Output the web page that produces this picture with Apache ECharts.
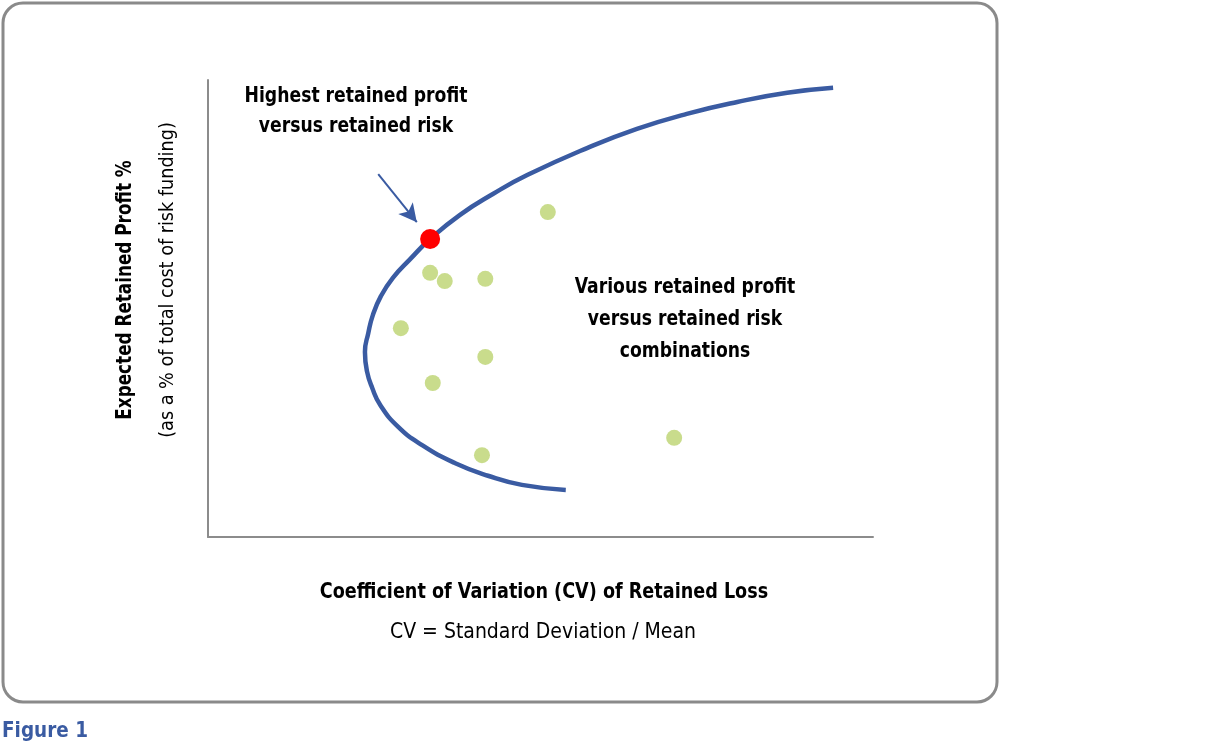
<!DOCTYPE html>
<html>
<head>
<meta charset="utf-8">
<script src="https://cdn.jsdelivr.net/npm/echarts@6/dist/echarts.min.js"></script>
<style>
html, body { margin: 0; padding: 0; background: #fff; }
#chart { width: 1228px; height: 751px; }
</style>
</head>
<body>
<div id="chart"></div>
<script>
// frontier curve (x = CV, y = profit), axis units 0..100
var curveX = [94.0, 87.1, 79.6, 72.0, 64.5, 57.0, 48.0, 42.9, 37.9, 33.4, 30.4, 27.8, 26.0, 24.8, 24.1, 23.6, 23.9, 24.7, 25.9, 28.6, 32.2, 37.1, 42.1, 47.2, 53.8];
var curveY = [98.3, 97.2, 95.2, 92.6, 89.3, 85.1, 79.2, 75.1, 70.5, 65.2, 60.8, 56.7, 52.7, 48.6, 44.6, 40.5, 36.3, 32.6, 28.9, 24.1, 20.1, 16.2, 13.4, 11.4, 10.3];
// various combinations
var dotsX = [51.1, 33.4, 35.6, 41.7, 29.0, 41.7, 33.8, 41.2, 70.1];
var dotsY = [71.1, 57.8, 56.0, 56.5, 45.7, 39.4, 33.7, 17.9, 21.7];
// best point
var bestPoint = [33.4, 65.2];
// arrow pointing at best point
var arrowFrom = [25.6, 79.4];
var arrowTo = [31.4, 68.9];

var cond = "'Liberation Sans Narrow', 'DejaVu Sans Condensed', 'Roboto', sans-serif";
var blue = '#3a5ba2';

var curve = [];
for (var i = 0; i < curveX.length; i++) curve.push([curveX[i], curveY[i]]);
var dots = [];
for (var j = 0; j < dotsX.length; j++) dots.push([dotsX[j], dotsY[j]]);

// text block; sx squeezes along the reading direction
function label(x, y, text, font, lh, sx, rot) {
	return {
		type: 'text', x: x, y: y, scaleX: sx,
		rotation: rot ? Math.PI / 2 : 0,
		style: { text: text, fill: '#000', font: font, align: 'center', verticalAlign: 'middle', lineHeight: lh }
	};
}

var myChart = echarts.init(document.getElementById('chart'));
var option = {
	animation: false,
	grid: { left: 208, top: 80, width: 665, height: 457 },
	xAxis: {
		type: 'value', min: 0, max: 100,
		axisLine: { onZero: false, lineStyle: { color: '#8c8c8c', width: 2 } },
		axisTick: { show: false },
		axisLabel: { show: false },
		splitLine: { show: false }
	},
	yAxis: {
		type: 'value', min: 0, max: 100,
		axisLine: { show: true, onZero: false, lineStyle: { color: '#8c8c8c', width: 2 } },
		axisTick: { show: false },
		axisLabel: { show: false },
		splitLine: { show: false }
	},
	graphic: [
		{ type: 'rect', shape: { x: 3, y: 3, width: 994, height: 699, r: 20 },
		  style: { fill: 'none', stroke: '#8a8a8a', lineWidth: 3 } },
		{ type: 'text', x: 2, y: 731, scaleX: 0.93,
		  style: { text: 'Figure 1', fill: blue, font: 'bold 22px ' + cond, verticalAlign: 'middle' } },
		label(356, 111, 'Highest retained profit\nversus retained risk', 'bold 22px ' + cond, 30, 0.87),
		label(685, 319, 'Various retained profit\nversus retained risk\ncombinations', 'bold 22px ' + cond, 32, 0.87),
		label(544, 592, 'Coefficient of Variation (CV) of Retained Loss', 'bold 22px ' + cond, 26, 0.89),
		label(543, 633, 'CV = Standard Deviation / Mean', '21px ' + cond, 26, 1),
		label(125, 290, 'Expected Retained Profit %', 'bold 22px ' + cond, 26, 0.85, true),
		label(168, 280, '(as a % of total cost of risk funding)', '20px ' + cond, 26, 0.98, true)
	],
	series: [
		{
			type: 'line', data: curve, smooth: 0.5, showSymbol: false,
			lineStyle: { color: blue, width: 4.5 }
		},
		{
			type: 'scatter', data: dots, symbolSize: 16,
			itemStyle: { color: '#c9dc8c', opacity: 1 },
			markLine: {
				silent: true, symbol: ['none', 'arrow'], symbolSize: [14, 18],
				label: { show: false },
				lineStyle: { color: blue, width: 2, type: 'solid' },
				data: [[{ coord: arrowFrom }, { coord: arrowTo }]]
			}
		},
		{
			type: 'scatter', data: [bestPoint], symbolSize: 20, z: 5,
			itemStyle: { color: '#ff0000', opacity: 1 }
		}
	]
};
myChart.setOption(option);
</script>
</body>
</html>
